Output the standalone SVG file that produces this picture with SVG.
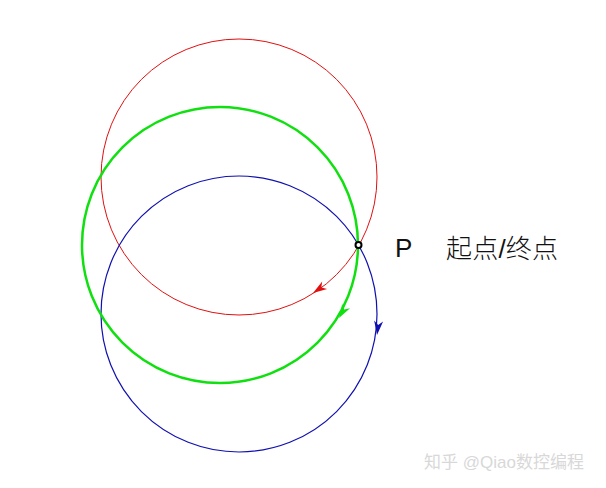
<svg xmlns="http://www.w3.org/2000/svg" width="606" height="488" viewBox="0 0 606 488">
<style>
.c{fill:none}
.lbl{font-family:"Liberation Sans","Noto Sans CJK SC",sans-serif;fill:#111;font-weight:300}
.wm{font-family:"Liberation Sans","Noto Sans CJK SC",sans-serif;fill:#d8d8d8}
</style>
<defs>
<path id="ah" d="M0,0 L-14,-4.5 L-10,0 L-14,4.5 Z"/>
</defs>
<rect width="606" height="488" fill="#ffffff"/>
<g id="connectors">
<g id="red"><circle class="c" cx="239" cy="177" r="138" stroke="#e01010" stroke-width="1"/>
<use href="#ah" fill="#e01010" transform="translate(313,293) rotate(146.5)"/></g>
<g id="blue"><circle class="c" cx="239" cy="314" r="138" stroke="#1010b0" stroke-width="1.2"/>
<use href="#ah" fill="#1010b0" transform="translate(377,335) rotate(96.6)"/></g>
<g id="green"><circle class="c" cx="220" cy="245" r="138" stroke="#10e010" stroke-width="2.5"/>
<use href="#ah" fill="#10e010" transform="translate(339,318) rotate(120.7)"/></g>
</g>
<g id="P">
<circle cx="358.5" cy="245" r="3" fill="#fff" stroke="#000" stroke-width="2"/>
<text class="lbl" x="395" y="257" font-size="26">P</text>
<text class="lbl" x="446" y="258" font-size="26" textLength="112">起点/终点</text>
</g>
<text class="wm" x="424" y="468" font-size="17">知乎 @Qiao数控编程</text>
</svg>
